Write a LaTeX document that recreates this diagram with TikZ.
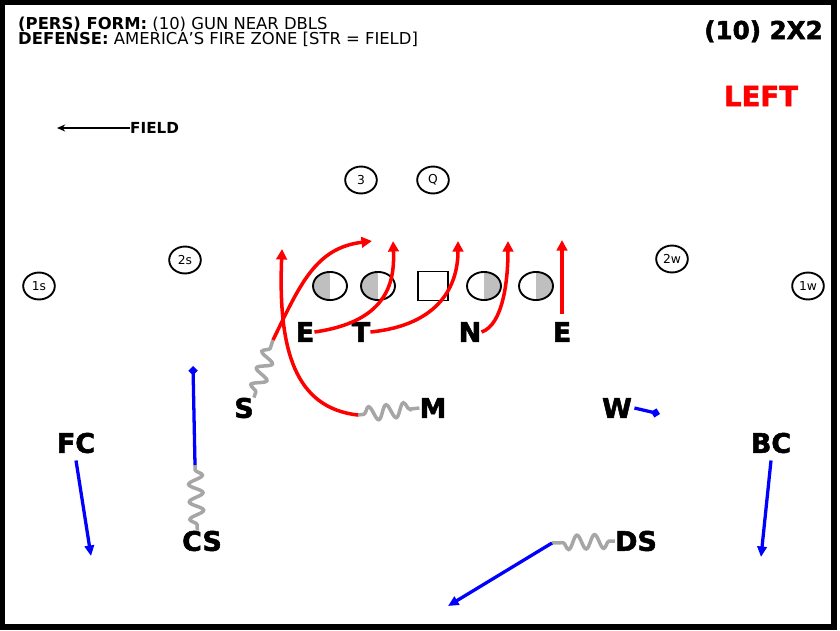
\documentclass[tikz,border=0pt]{standalone}
\usepackage{fontspec}
\setmainfont{DejaVu Sans}
\newfontfamily\heavyfont[FakeBold=2]{DejaVu Sans Bold}
\usetikzlibrary{positioning}
\usetikzlibrary{shapes.geometric}
\usetikzlibrary{arrows.meta}
\usetikzlibrary{decorations.pathmorphing}
\definecolor{rushred}{RGB}{255,0,0}
\definecolor{dropblue}{RGB}{0,0,255}
\definecolor{wiggray}{RGB}{166,166,166}
\definecolor{olgray}{RGB}{191,191,191}

\begin{document}
\begin{tikzpicture}[
	x=0.03cm,y=-0.03cm,
	rcv/.style={draw,line width=1.6pt,ellipse,minimum width=27pt,minimum height=23pt,inner sep=0pt,font=\fontsize{10.5}{10.5}\selectfont},
	lman/.style={draw,line width=1.6pt,ellipse,minimum width=29pt,minimum height=24pt,inner sep=0pt},
	lgray/.style={path picture={\fill[olgray] (path picture bounding box.south west) rectangle (path picture bounding box.north);}},
	rgray/.style={path picture={\fill[olgray] (path picture bounding box.south east) rectangle (path picture bounding box.north);}},
	dman/.style={font=\heavyfont\fontsize{23}{23}\selectfont,inner sep=0pt},
	rush/.style={draw=rushred,line width=3pt,-{Triangle[length=9pt,width=9pt]}},
	drop/.style={draw=dropblue,line width=2.8pt,-{Triangle[length=9pt,width=8pt]}},
	spot/.style={draw=dropblue,line width=2.8pt,-{Turned Square[length=8pt,width=8pt]}},
	wig/.style={draw=wiggray,line width=3pt,decorate,decoration={snake,segment length=15pt,amplitude=6pt,pre length=5pt,post length=3pt}}
]

	% frame
	\useasboundingbox (0,0) rectangle (840,630);
	\draw[line width=4.3pt] (2.5,2.5) rectangle (834,627);

	% titles
	\node[anchor=base west,inner sep=0pt,font=\fontsize{14}{14}\selectfont] (form) at (18,29) {\textbf{(PERS) FORM:} (10) GUN NEAR DBLS};
	\node[anchor=base west,inner sep=0pt,font=\fontsize{14}{14}\selectfont] (def) at (18,44) {\textbf{DEFENSE:} AMERICA’S FIRE ZONE [STR = FIELD]};
	\node[anchor=base east,inner sep=0pt,font=\heavyfont\fontsize{21}{21}\selectfont] (pers) at (823,39) {(10) 2X2};
	\node[inner sep=0pt,text=rushred,font=\heavyfont\fontsize{23.5}{23.5}\selectfont] (call) at (761,96) {LEFT};
	\node[anchor=west,inner sep=0pt,font=\bfseries\fontsize{13}{13}\selectfont] (field) at (130,128) {FIELD};
	\coordinate (fieldEnd) at (57,128);
	\draw[line width=1.5pt,-{Stealth[length=7pt,width=6pt]}] (field.west) -- (fieldEnd);

	% offense
	\foreach \name/\x/\y in {1s/39/286,2s/185/260,3/361/180,Q/433/180,2w/672/259,1w/808/286}{
		\node[rcv] (r\name) at (\x,\y) {\name};
	}
	\node[lman,lgray] (ol1) at (330,286) {};
	\node[lman,lgray] (ol2) at (378,286) {};
	\node[draw,line width=1.6pt,minimum width=25.6pt,minimum height=24.7pt,inner sep=0pt] (ctr) at (433,286) {};
	\node[lman,rgray] (ol4) at (484,286) {};
	\node[lman,rgray] (ol5) at (536,286) {};

	% defense
	\node[dman] (e1) at (305,332) {E};
	\node[dman] (t) at (361,332) {T};
	\node[dman] (n) at (470,332) {N};
	\node[dman] (e2) at (562,332) {E};
	\node[dman] (s) at (244,408) {S};
	\node[dman] (m) at (433,408) {M};
	\node[dman] (w) at (617,408) {W};
	\node[dman] (fc) at (76,443) {FC};
	\node[dman] (bc) at (771,443) {BC};
	\node[dman] (cs) at (202,541) {CS};
	\node[dman] (ds) at (636,541) {DS};

	% rush ends
	\coordinate (sGo) at (273,340);
	\coordinate (mGo) at (358,415);
	\coordinate (csGo) at (195,465);
	\coordinate (dsGo) at (552,543);
	\coordinate (sEnd) at (372,241);
	\coordinate (mEnd) at (282,249);
	\coordinate (e1End) at (393,241);
	\coordinate (tEnd) at (458,241);
	\coordinate (nEnd) at (508,241);
	\coordinate (e2Go) at (562,314);
	\coordinate (e2End) at (562,240);

	% wiggles
	\draw[wig] (s.north east) -- (sGo);
	\draw[wig] (mGo) -- (m.west);
	\draw[wig] ([xshift=-4pt]cs.north) -- (csGo);
	\draw[wig] (ds.west) -- (dsGo);

	% rushes
	\draw[rush] (sGo) .. controls (300,285) and (315,248) .. (sEnd);
	\draw[rush] (mGo) .. controls (295,408) and (278,350) .. (mEnd);
	\draw[rush] (e1.east) .. controls (385,322) and (395,285) .. (e1End);
	\draw[rush] (t.east) .. controls (440,325) and (458,285) .. (tEnd);
	\draw[rush] (n.east) .. controls (503,325) and (508,280) .. (nEnd);
	\draw[rush] (e2Go) -- (e2End);

	% coverage
	\coordinate (fcEnd) at (91,556);
	\coordinate (bcEnd) at (761,557);
	\coordinate (dsEnd) at (448,606);
	\coordinate (csEnd) at (193,366);
	\coordinate (wEnd) at (660,414);
	\draw[drop] ([yshift=-6pt]fc.south) -- (fcEnd);
	\draw[drop] ([yshift=-6pt]bc.south) -- (bcEnd);
	\draw[drop] (dsGo) -- (dsEnd);
	\draw[spot] (csGo) -- (csEnd);
	\draw[spot] ([xshift=2pt]w.east) -- (wEnd);

\end{tikzpicture}
\end{document}
